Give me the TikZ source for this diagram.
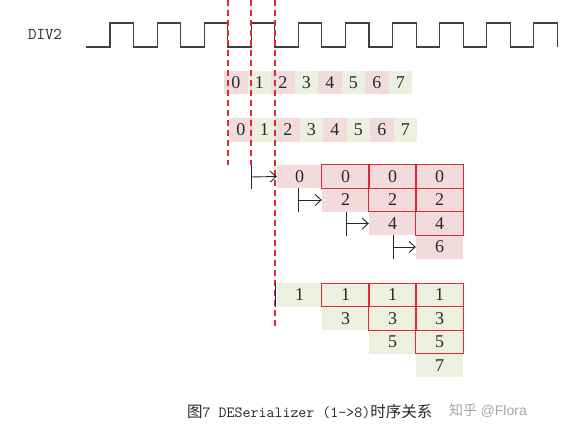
\documentclass[tikz,border=0pt]{standalone}
\usepackage{fontspec}
\setmainfont{Liberation Serif}
\newfontfamily\cjk{Noto Sans CJK SC}
\newfontfamily\wmfont{Liberation Sans}
\usetikzlibrary{arrows.meta}
\definecolor{pk}{RGB}{242,220,219}
\definecolor{gn}{RGB}{235,241,222}
\definecolor{rd}{RGB}{226,40,52}
\definecolor{dk}{RGB}{40,40,40}
\begin{document}
\begin{tikzpicture}[x=1pt,y=-1pt,
 cell/.style={inner sep=0pt, minimum height=23.5pt, font=\fontsize{18}{18}\selectfont, text=dk},
 pcell/.style={cell, fill=pk},
 gcell/.style={cell, fill=gn},
 sm/.style={minimum width=23.5pt},
 wd/.style={minimum width=47pt},
 rbox/.style={draw=rd, line width=0.9pt},
 dsh/.style={draw=rd, line width=1.1pt, dash pattern=on 6pt off 4pt},
 clk/.style={draw=black!75, line width=1.1pt},
 stem/.style={draw=dk, line width=0.9pt},
 arr/.style={draw=dk, line width=0.9pt, -{Straight Barb[length=6pt,width=11pt]}},
 lbl/.style={inner sep=0pt, text=dk}
]
\useasboundingbox (0,0) rectangle (562,435);

% clock label and waveform
\node[lbl, font=\ttfamily\fontsize{16.5}{16.5}\selectfont] (div) at (45,34) {DIV2};
\draw[clk] (86,47) \foreach \i in {0,...,9} { -- ({110+47.1*\i},47) -- ({110+47.1*\i},23) -- ({133.5+47.1*\i},23) -- ({133.5+47.1*\i},47) };

% row 1
\foreach \v [count=\k from 0] in {0,...,7} {
  \pgfmathtruncatemacro{\odd}{mod(\k,2)}
  \ifnum\odd=0
    \node[pcell, sm] (ra\k) at ({235.75+23.5*\k},82.5) {\v};
  \else
    \node[gcell, sm] (ra\k) at ({235.75+23.5*\k},82.5) {\v};
  \fi
}
% row 2
\foreach \v [count=\k from 0] in {0,...,7} {
  \pgfmathtruncatemacro{\odd}{mod(\k,2)}
  \ifnum\odd=0
    \node[pcell, sm] (rb\k) at ({240.75+23.5*\k},130) {\v};
  \else
    \node[gcell, sm] (rb\k) at ({240.75+23.5*\k},130) {\v};
  \fi
}

% upper staircase (even bits)
\node[pcell, minimum width=45pt] (A0) at (299.5,176.5) {0};
\node[pcell, wd] (A1) at (345.5,176.5) {0};
\node[pcell, wd] (A2) at (392.5,176.5) {0};
\node[pcell, wd] (A3) at (439.5,176.5) {0};
\node[pcell, wd] (B1) at (345.5,200) {2};
\node[pcell, wd] (B2) at (392.5,200) {2};
\node[pcell, wd] (B3) at (439.5,200) {2};
\node[pcell, wd] (C2) at (392.5,223.5) {4};
\node[pcell, wd] (C3) at (439.5,223.5) {4};
\node[pcell, wd] (D3) at (439.5,247) {6};

% lower staircase (odd bits)
\node[gcell, minimum width=45pt] (E0) at (299.5,295) {1};
\node[gcell, wd] (E1) at (345.5,295) {1};
\node[gcell, wd] (E2) at (392.5,295) {1};
\node[gcell, wd] (E3) at (439.5,295) {1};
\node[gcell, wd] (F1) at (345.5,318.5) {3};
\node[gcell, wd] (F2) at (392.5,318.5) {3};
\node[gcell, wd] (F3) at (439.5,318.5) {3};
\node[gcell, wd] (G2) at (392.5,342) {5};
\node[gcell, wd] (G3) at (439.5,342) {5};
\node[gcell, wd] (H3) at (439.5,365.5) {7};

% red outlines
\foreach \n in {A1,A2,A3,B2,B3,C3,E1,E2,E3,F2,F3,G3}
  \draw[rbox] (\n.north west) rectangle (\n.south east);

% dashed markers
\coordinate (d1t) at (228,0); \coordinate (d1b) at (228,165);
\coordinate (d2t) at (251,0); \coordinate (d2b) at (251,165);
\coordinate (d3t) at (275,0); \coordinate (d3b) at (275,330);
\draw[dsh] (d1t) -- (d1b);
\draw[dsh] (d2t) -- (d2b);
\draw[dsh] (d3t) -- (d3b);

% load arrows
\coordinate (sa1) at (251,165); \coordinate (sa2) at (251,189); \coordinate (sa) at (251,177);
\coordinate (sb1) at (298,188); \coordinate (sb2) at (298,212); \coordinate (sb) at (298,200);
\coordinate (sc1) at (346,212); \coordinate (sc2) at (346,236); \coordinate (sc) at (346,223.5);
\coordinate (sd1) at (393,235); \coordinate (sd2) at (393,259); \coordinate (sd) at (393,247);
\coordinate (se1) at (275,283); \coordinate (se2) at (275,307);
\draw[stem] (sa1) -- (sa2); \draw[arr] (sa) -- (A0.west);
\draw[stem] (sb1) -- (sb2); \draw[arr] (sb) -- (B1.west);
\draw[stem] (sc1) -- (sc2); \draw[arr] (sc) -- (C2.west);
\draw[stem] (sd1) -- (sd2); \draw[arr] (sd) -- (D3.west);
\draw[stem] (se1) -- (se2);

% caption
\node[lbl, anchor=west, font=\fontsize{15.5}{15.5}\selectfont] (cap) at (187,412)
  {{\cjk 图}{\ttfamily 7 DESerializer (1->8)}{\cjk 时序关系}};
\node[lbl, anchor=west, text=black!35, font=\fontsize{14}{14}\selectfont] (wm) at (449,411)
  {{\cjk 知乎} {\wmfont @Flora}};
\end{tikzpicture}
\end{document}
